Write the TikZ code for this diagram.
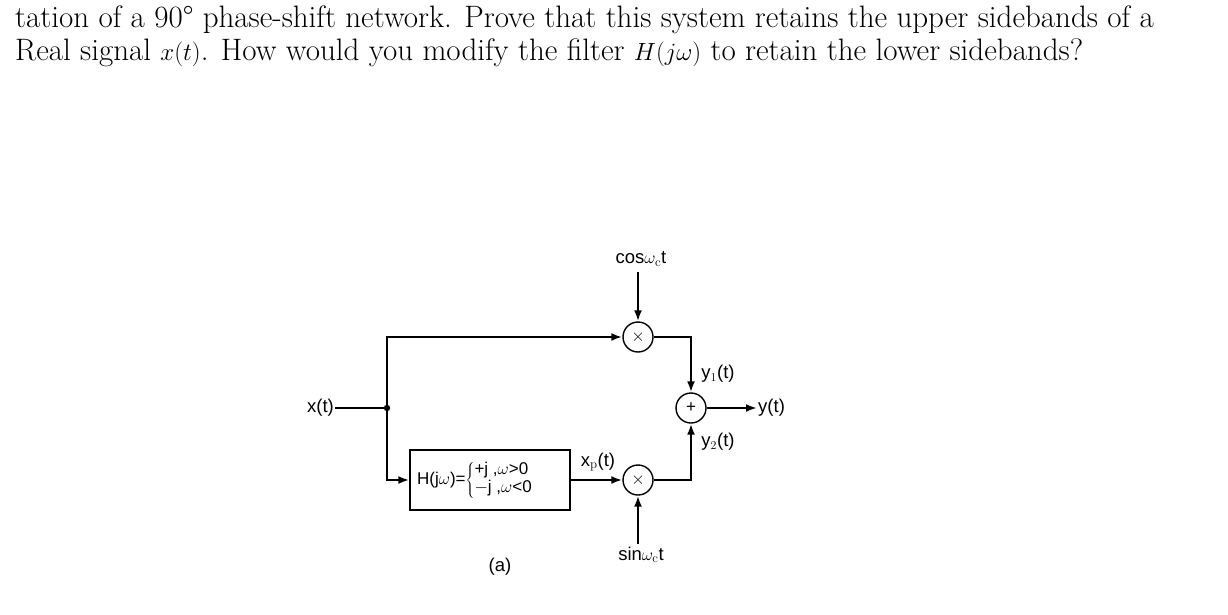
\documentclass[tikz,border=0pt]{standalone}
\usepackage{fontspec}
\newfontfamily\dsans{Liberation Sans}
\usetikzlibrary{arrows.meta}
\begin{document}
\begin{tikzpicture}[x=1pt,y=-1pt,
  wire/.style={line width=2.2pt},
  arr/.style={wire,-{Latex[length=11pt,width=8pt]}},
  circ/.style={circle,draw,line width=1.4pt,minimum size=30pt,inner sep=0pt,font=\dsans\fontsize{17}{17}\selectfont},
  lab/.style={font=\dsans\fontsize{18.5}{18.5}\selectfont,inner sep=1pt},
  txt/.style={anchor=west,font=\fontsize{31}{34}\selectfont,inner sep=0pt}]
\useasboundingbox (0,0) rectangle (1228,614);
\node[txt] (t1) at (15,20) {tation of a 90\textdegree\ phase-shift network. Prove that this system retains the upper sidebands of a};
\node[txt] (t2) at (15,53) {Real signal $x(t)$. How would you modify the filter $H(j\omega)$ to retain the lower sidebands?};
\node[lab,anchor=east] (x) at (335,408) {x(t)};
\coordinate (j) at (387,408);
\fill (j) circle (3.2pt);
\node[circ] (m1) at (638,337) {$\times$};
\node[circ] (m2) at (638,480) {$\times$};
\node[circ] (ad) at (691,408) {+};
\node[draw,line width=1.4pt,minimum width=160pt,minimum height=60pt,inner sep=0pt] (h) at (490,480) {};
\node[lab,anchor=west,font=\dsans\fontsize{17}{17}\selectfont] (hl) at (416,480) {H(j$\omega$)=$\left\{\begin{array}{@{}l@{}}\mbox{\dsans +j ,}\omega\mbox{\dsans >0}\\ \mbox{\dsans $-$j ,}\omega\mbox{\dsans <0}\end{array}\right.$};
\node[lab] (cos) at (641,259) {cos$\omega_{\mathrm c}$t};
\node[lab] (sin) at (641,555) {sin$\omega_{\mathrm c}$t};
\coordinate (cs) at (638,272);
\coordinate (ss) at (638,544);
\node[lab] (y1) at (718,374) {y$_1$(t)};
\node[lab] (y2) at (718,442) {y$_2$(t)};
\node[lab] (xp) at (598,462) {x$_{\mathrm p}$(t)};
\node[lab,anchor=west] (y) at (757,408) {y(t)};
\node[lab] (a) at (500,567) {(a)};
\draw[wire] (x) -- (j);
\draw[arr] (j) |- (m1);
\draw[arr] (j) |- (h);
\draw[arr] (h) -- (m2);
\draw[arr] (cs) -- (m1);
\draw[arr] (ss) -- (m2);
\draw[arr] (m1) -| (ad);
\draw[arr] (m2) -| (ad);
\draw[arr] (ad) -- (y);
\end{tikzpicture}
\end{document}
